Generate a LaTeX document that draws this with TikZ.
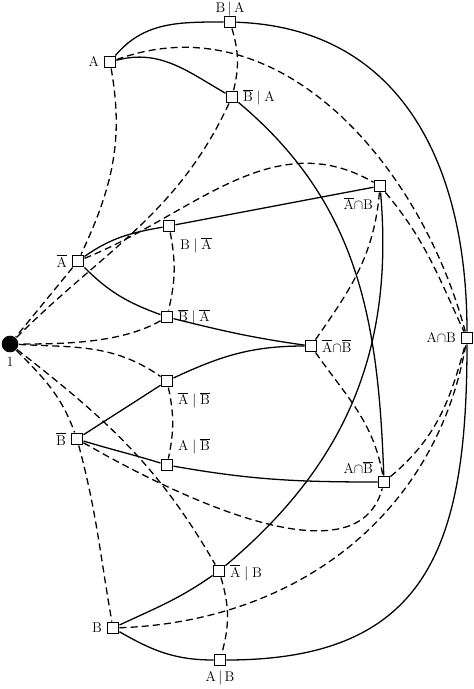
\documentclass[tikz,border=0pt]{standalone}
\usepackage{amsmath}
\usepackage{amssymb}
\usepackage{tikz}
\newcommand{\cmpl}[1]{\overline{\mathrm{#1}}}

\begin{document}
\begin{tikzpicture}[x=0.03cm,y=0.03cm,line width=1.1pt,
		every label/.style={font=\large},
		box/.style={draw,rectangle,minimum size=3.5mm,inner sep=0pt},
		unit/.style={circle,fill,minimum size=5mm,inner sep=0pt},
		sum/.style={dash pattern=on 6pt off 3.5pt}]
		
		\useasboundingbox (0,0) rectangle (474,-689);
		
		\node (one) [unit, label=below:$1$] at (10,-344) {};
		\node (A) [box, label=left:$\mathrm{A}$] at (110,-62) {};
		\node (BgA) [box, label={[label distance=-1.6mm]above:$\mathrm{B}\,|\,\mathrm{A}$}] at (230,-22) {};
		\node (nBgA) [box, label=right:$\cmpl{B}\mid\mathrm{A}$] at (232,-97) {};
		\node (nA) [box, label=left:$\cmpl{A}$] at (78,-261) {};
		\node (BgnA) [box, label=below right:$\mathrm{B}\mid\cmpl{A}$] at (169,-226) {};
		\node (nBgnA) [box, label=right:$\cmpl{B}\mid\cmpl{A}$] at (167,-317) {};
		\node (nAnB) [box, label=right:$\cmpl{A}{\cap}\cmpl{B}$] at (311,-346) {};
		\node (nAB) [box, label={[xshift=1.2mm]below left:$\cmpl{A}{\cap}\mathrm{B}$}] at (380,-186) {};
		\node (AB) [box, label=left:$\mathrm{A}{\cap}\mathrm{B}$] at (467,-338) {};
		\node (nAgnB) [box, label=below right:$\cmpl{A}\mid\cmpl{B}$] at (167,-381) {};
		\node (nB) [box, label=left:$\cmpl{B}$] at (77,-439) {};
		\node (AgnB) [box, label=above right:$\mathrm{A}\mid\cmpl{B}$] at (167,-465) {};
		\node (AnB) [box, label={[yshift=-0.8mm]above left:$\mathrm{A}{\cap}\cmpl{B}$}] at (384,-482) {};
		\node (nAgB) [box, label={[yshift=-0.5mm]right:$\cmpl{A}\mid\mathrm{B}$}] at (219,-571) {};
		\node (B) [box, label=left:$\mathrm{B}$] at (113,-628) {};
		\node (AgB) [box, label=below:$\mathrm{A}\,|\,\mathrm{B}$] at (220,-660) {};
		
		% products
		\path
		(A) edge [out=50, in=180] (BgA)
		(BgA) edge [out=-2, in=90, looseness=1.1] (AB)
		(A) edge [out=15, in=150] (nBgA)
		(nBgA) edge [out=-40, in=92] (AnB)
		(nA) edge [out=35, in=190] (BgnA)
		(BgnA) edge (nAB)
		(nA) edge [out=-45, in=160] (nBgnA)
		(nBgnA) edge [out=-14, in=172] (nAnB)
		(nB) edge [out=33, in=213] (nAgnB)
		(nAgnB) edge [out=25, in=180] (nAnB)
		(nB) edge [out=-17, in=163] (AgnB)
		(AgnB) edge [out=-10, in=180] (AnB)
		(B) edge [out=25, in=215] (nAgB)
		(nAgB) edge [out=40, in=-85] (nAB)
		(B) edge [out=-30, in=180] (AgB)
		(AgB) edge [out=0, in=-90, looseness=1.3] (AB);
		
		% sums
		\path [sum]
		(A) edge [out=20, in=105] (AB)
		(A) edge [out=-80, in=65] (nA)
		(nA) edge (one)
		(BgA) edge [bend left=15] (nBgA)
		(nBgA) edge [out=-115, in=45] (one)
		(nA) edge [out=22, in=150] (nAB)
		(BgnA) edge [bend left=12] (nBgnA)
		(nBgnA) edge [out=-150, in=0, looseness=0.8] (one)
		(one) edge [out=-3, in=145] (nAgnB)
		(nAgnB) edge [bend left=12] (AgnB)
		(one) edge [out=-45, in=110] (nB)
		(nB) edge [out=-75, in=100] (B)
		(one) edge [out=-38, in=120] (nAgB)
		(nAgB) edge [bend left=16] (AgB)
		(nB) edge [out=-30, in=-105, looseness=0.85] (AnB)
		(B) edge [out=2, in=-100] (AB)
		(nAB) edge [out=-95, in=55] (nAnB)
		(nAnB) edge [out=-55, in=100] (AnB)
		(nAB) edge [out=-50, in=115] (AB)
		(AnB) edge [out=40, in=-105] (AB);
	\end{tikzpicture}
\end{document}
